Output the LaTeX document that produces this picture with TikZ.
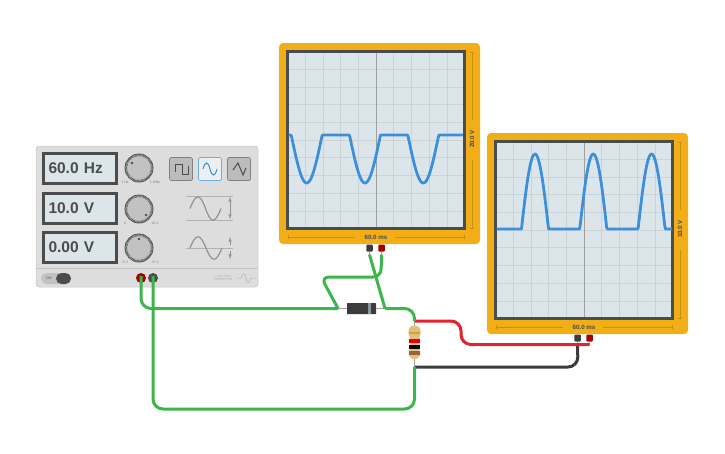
\documentclass[tikz,border=0pt]{standalone}
\usepackage{fontspec}
\setmainfont{Liberation Sans}
\usetikzlibrary{positioning,arrows}
\definecolor{panelgray}{HTML}{DDDDDD}
\definecolor{lcdblue}{HTML}{DCE6EA}
\definecolor{darkgray}{HTML}{4A4C4D}
\definecolor{scopeamber}{HTML}{F2AE17}
\definecolor{scopeline}{HTML}{C98F12}
\definecolor{wiregreen}{HTML}{3DB54A}
\definecolor{wirered}{HTML}{E4222B}
\definecolor{wireblack}{HTML}{3C3C3C}
\definecolor{traceblue}{HTML}{3D8FDB}
\definecolor{gridgray}{HTML}{CAD4D7}
\definecolor{leadgray}{HTML}{A0A0A0}
\definecolor{restan}{HTML}{E2BF80}
\tikzset{
  panel/.style={fill=panelgray,draw=panelgray!90!black,line width=0.5pt,rounded corners=3pt,minimum width=222pt,minimum height=141pt,inner sep=0pt},
  lcd/.style={fill=lcdblue,draw=darkgray,line width=3pt,minimum width=73pt,minimum height=30pt,inner sep=0pt,text width=62pt,align=left,text=darkgray,font=\bfseries\fontsize{15.5}{16}\selectfont},
  knob/.style={circle,fill=panelgray!88!black,draw=darkgray,line width=0.8pt,minimum size=28pt,inner sep=0pt},
  knobdot/.style={circle,fill=darkgray,minimum size=2.8pt,inner sep=0pt},
  tiny/.style={text=gray,inner sep=0pt,font=\fontsize{3.5}{4}\selectfont},
  wavebtn/.style={fill=panelgray!85!black,draw=gray,line width=0.7pt,rounded corners=1.5pt,minimum size=23pt,inner sep=0pt},
  terminal/.style={circle,minimum size=10pt,inner sep=0pt},
  frame/.style={fill=scopeamber,rounded corners=4pt,minimum size=201pt,inner sep=0pt},
  screen/.style={fill=lcdblue,draw=darkgray,line width=2.2pt,minimum size=177pt,inner sep=0pt},
  scopelabel/.style={text=darkgray,inner sep=0pt,font=\bfseries\fontsize{6.2}{7}\selectfont},
  probe/.style={rounded corners=1pt,minimum width=6.5pt,minimum height=7pt,inner sep=0pt},
  wire/.style={line width=3pt,rounded corners=10pt},
  lead/.style={leadgray,line width=1.6pt},
  trace/.style={traceblue,line width=2.8pt,line join=round},
  band/.style={minimum width=10.5pt,minimum height=3.4pt,inner sep=0pt}
}
\begin{document}
\begin{tikzpicture}[x=1pt,y=-1pt,>=latex]
\useasboundingbox (0,0) rectangle (725,453);
% function generator
\node[panel] (gen) at (147,216.5) {};
\draw[panelgray!90!black,line width=0.5pt] (36.5,268) -- (257.5,268);
\node[lcd] (freq) at (79.5,168.5) {60.0 Hz};
\node[lcd] (ampl) at (79.5,208) {10.0 V};
\node[lcd] (offs) at (79.5,247) {0.00 V};
\foreach \name/\ky/\dx/\dy/\lo/\hi in {freqknob/168/-7/-5/1 Hz/1 MHz, amplknob/209/7/6/0/10 V, offsknob/248/0/-9/-5 V/+5 V}{
  \node[knob] (\name) at (139,\ky) {};
  \draw[panelgray!45!black,line width=2.2pt,dash pattern=on 0.7pt off 0.7pt] (\name) circle (13pt);
  \node[knobdot] (\name dot) at (139+\dx,\ky+\dy) {};
  \node[tiny] (\name lo) at (125,\ky+14.5) {\lo};
  \node[tiny] (\name hi) at (155,\ky+14.5) {\hi};
}
% waveform buttons
\node[wavebtn] (square) at (181,169) {};
\node[wavebtn,fill=lcdblue!60!white,draw=cyan!70!blue!60] (sine) at (210,169) {};
\node[wavebtn] (triangle) at (239,169) {};
\draw[darkgray,line width=1pt] (175,172) -- (175,164) -- (182,164) -- (182,174) -- (188,174) -- (188,166);
\draw[cyan!60!blue!80,line width=1pt] (203,169) .. controls (205,161) and (208,161) .. (210,169) .. controls (212,177) and (215,177) .. (217,169);
\draw[darkgray,line width=1pt] (233,170) -- (238,163) -- (243,175) -- (246,168);
% amplitude and offset marks
\draw[gray!60,line width=0.8pt] (186,196) -- (233,196) (186,220) -- (233,220);
\draw[gray!85,line width=1.2pt] (190,208.5) .. controls (196,193) and (200,193) .. (205.5,208.5) .. controls (211,224) and (215,224) .. (221,208.5);
\draw[<->,gray!85,line width=0.6pt] (230,197) -- (230,219);
\draw[gray!60,line width=0.8pt] (186,248) -- (233,248);
\draw[gray!85,line width=1.2pt] (190,248) .. controls (196,233) and (200,233) .. (206,248) .. controls (212,263) and (216,263) .. (222,248);
\draw[->,gray!85,line width=0.6pt] (230,245) -- (230,237);
\draw[->,gray!85,line width=0.6pt] (230,251) -- (230,259);
% power switch
\node[fill=panelgray!88!black,rounded corners=5.5pt,minimum width=30pt,minimum height=11pt,inner sep=0pt] (switch) at (56,278.5) {};
\node[fill=darkgray,rounded corners=5.5pt,minimum width=15pt,minimum height=11pt,inner sep=0pt] (switchkey) at (63.5,278.5) {};
\node[tiny,text=darkgray] (switchtext) at (49,278.5) {ON};
\node[tiny,text=gray!60,align=center,font=\fontsize{3}{3.5}\selectfont] (brand) at (223,278) {FUNCTION\\GENERATOR};
\draw[gray!60,line width=0.5pt] (237,278) -- (241,278) .. controls (243,272) and (245,272) .. (246,278) .. controls (247,284) and (249,284) .. (251,278) -- (255,278);
\node[terminal,fill=red!65!black] (genpos) at (141,278) {};
\node[terminal,fill=darkgray] (genneg) at (153,278) {};
% oscilloscopes
\foreach \name/\ox/\oy/\vtext in {scopea/279/43/20.0 V, scopeb/487/133/10.0 V}{
  \node[frame] (\name) at (\ox+100.5,\oy+100.5) {};
  \node[screen] (\name screen) at (\ox+97,\oy+97) {};
  \foreach \i in {1,...,9}{
    \draw[gridgray,line width=0.6pt] (\ox+8.5+17.7*\i,\oy+9) -- (\ox+8.5+17.7*\i,\oy+185);
    \draw[gridgray,line width=0.6pt] (\ox+9,\oy+8.5+17.7*\i) -- (\ox+185,\oy+8.5+17.7*\i);
  }
  \draw[gray!75,line width=0.7pt] (\ox+97,\oy+9) -- (\ox+97,\oy+185);
  \node[screen,fill=none] (\name border) at (\ox+97,\oy+97) {};
  \node[scopelabel] (\name time) at (\ox+97,\oy+194) {60.0 ms};
  \node[scopelabel,rotate=90] (\name volt) at (\ox+193,\oy+96) {\vtext};
  \draw[scopeline,line width=0.5pt] (\ox+9,\oy+192) -- (\ox+9,\oy+196) (\ox+9,\oy+194) -- (\ox+76,\oy+194);
  \draw[scopeline,line width=0.5pt] (\ox+185,\oy+192) -- (\ox+185,\oy+196) (\ox+185,\oy+194) -- (\ox+116,\oy+194);
  \draw[scopeline,line width=0.5pt] (\ox+191,\oy+9) -- (\ox+195,\oy+9) (\ox+193,\oy+9) -- (\ox+193,\oy+77);
  \draw[scopeline,line width=0.5pt] (\ox+191,\oy+185) -- (\ox+195,\oy+185) (\ox+193,\oy+185) -- (\ox+193,\oy+117);
  \node[probe,fill=wireblack] (\name neg) at (\ox+90.5,\oy+205) {};
  \node[probe,fill=red!65!black] (\name pos) at (\ox+102.5,\oy+205) {};
  \draw[lead] (\name neg.south) -- ++(0,3) coordinate (\name negend);
  \draw[lead] (\name pos.south) -- ++(0,3) coordinate (\name posend);
}
\draw[trace] plot[domain=288.5:463,samples=240] (\x,{135+48*max(0,(cos(6.175*(\x-306.7))+0.1)/1.1)});
\draw[trace] plot[domain=496.5:672,samples=240] (\x,{229-75*max(0,(cos(6.175*(\x-535))-0.115)/0.885)});
% diode
\node[fill=wireblack,rounded corners=0.5pt,minimum width=29pt,minimum height=11pt,inner sep=0pt] (diode) at (361.5,308.5) {};
\node[fill=gray!90!cyan,minimum width=2.8pt,minimum height=11pt,inner sep=0pt] (cathode) at (369.5,308.5) {};
\coordinate (diodeleft) at (338,308.5);
\coordinate (dioderight) at (385,308.5);
\draw[lead] (diodeleft) -- (diode.west) (diode.east) -- (dioderight);
% resistor
\coordinate (restop) at (414.5,321);
\coordinate (resbot) at (414.5,367);
\draw[lead] (restop) -- (resbot);
\fill[restan] (410,327) .. controls (412,325) and (417,325) .. (419,327) .. controls (421,329) and (421,334) .. (419.5,337) -- (419.5,350) .. controls (421,352) and (421,355) .. (418,358) .. controls (416,360) and (413,360) .. (411,358) .. controls (408,355) and (408,352) .. (409.5,350) -- (409.5,337) .. controls (408,334) and (408,329) .. (410,327) -- cycle;
\node[band,fill=brown!70!yellow,minimum height=2pt] (bandgold) at (414.5,332.5) {};
\node[band,fill=red!90!black] (bandred) at (414.5,341) {};
\node[band,fill=black] (bandblack) at (414.5,347) {};
\node[band,fill=brown!80!black,minimum width=11.5pt] (bandbrown) at (414.5,353) {};
% wires
\draw[wire,wireblack] (resbot) -- (578,367) -- (scopebnegend);
\draw[wire,wirered] (restop) -- (461,321) -- (461,344.5) -- (scopebposend);
\draw[wire,wiregreen,rounded corners=8pt] (scopeaposend) -- (381,277) -- (321,277) -- (diodeleft);
\draw[wire,wiregreen,rounded corners=0pt] (scopeanegend) -- (dioderight);
\draw[wire,wiregreen] (dioderight) -- (414.5,308.5) -- (restop);
\draw[wire,wiregreen] (resbot) -- (414.5,409) -- (153,409) -- ([yshift=2pt]genneg.center);
\draw[wire,wiregreen] ([yshift=2pt]genpos.center) -- (141,308.5) -- (diodeleft);
\end{tikzpicture}
\end{document}
